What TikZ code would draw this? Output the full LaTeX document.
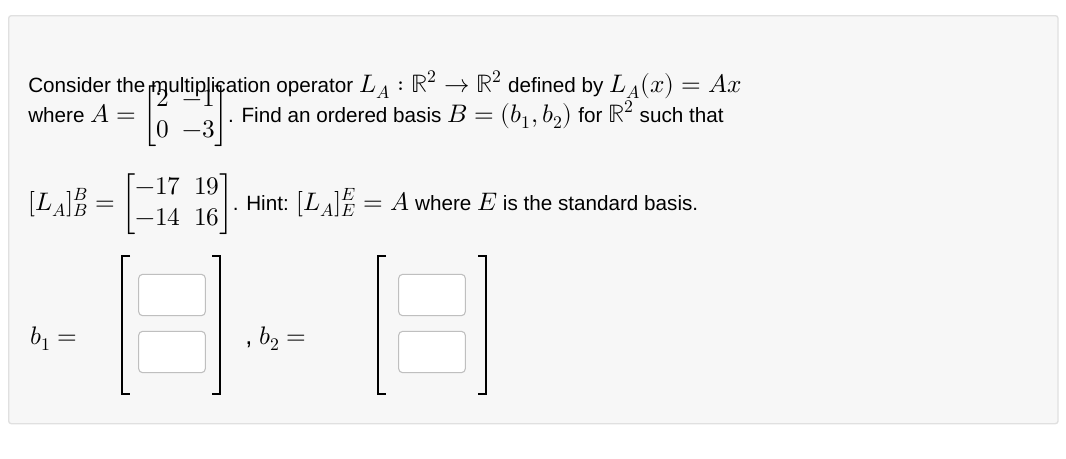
\documentclass[tikz,border=0pt]{standalone}
\usepackage{amsmath,amssymb}
\usepackage{fontspec}
\setmainfont{Liberation Sans}
\usepackage{unicode-math}
\setmathfont{Latin Modern Math}
\begin{document}
\begin{tikzpicture}[x=0.75pt,y=-0.75pt,
  txt/.style={anchor=base west,inner sep=0pt,font=\fontsize{16}{19}\selectfont},
  mtx/.style={anchor=base west,inner sep=0pt,font=\fontsize{19}{23}\selectfont},
  ansbox/.style={draw=black!25,fill=white,rounded corners=3pt,line width=0.8pt,minimum width=50pt,minimum height=31pt},
  brk/.style={line width=1.2pt}]
\useasboundingbox (0,0) rectangle (1066,458);
\fill[white] (0,0) rectangle (1066,458);
\node[draw=black!12,fill=black!3,line width=1pt,rounded corners=2pt,minimum width=787pt,minimum height=306pt,anchor=north west,inner sep=0pt] (panel) at (8,15) {};
\node[txt] (l1) at (28,92) {\fontsize{15.5}{19}\selectfont Consider the multiplication operator {\fontsize{19}{23}\selectfont$L_A:\mathbb{R}^2\to\mathbb{R}^2$} defined by {\fontsize{19}{23}\selectfont$L_A(x)=Ax$}};
\node[txt] (l2) at (28,122) {\fontsize{15.5}{19}\selectfont where {\fontsize{19}{23}\selectfont$A=\begin{bmatrix}2&-1\\0&-3\end{bmatrix}$}. Find an ordered basis {\fontsize{19}{23}\selectfont$B=(b_1,b_2)$} for {\fontsize{19}{23}\selectfont$\mathbb{R}^2$} such that};
\node[txt] (l3) at (28,210) {\fontsize{15.5}{19}\selectfont {\fontsize{19}{23}\selectfont$[L_A]_B^B=\begin{bmatrix}-17&19\\-14&16\end{bmatrix}$}. Hint: {\fontsize{19}{23}\selectfont$[L_A]_E^E=A$} where {\fontsize{19}{23}\selectfont$E$} is the standard basis.};
\node[mtx] (b1) at (30,344) {$b_1=$};
\node[ansbox] (p) at (172,295) {};
\node[ansbox] (q) at (172,352) {};
\draw[brk] (130,256) -- (122,256) -- (122,394) -- (130,394);
\draw[brk] (212,256) -- (220,256) -- (220,394) -- (212,394);
\node[mtx] (b2) at (245,344) {, $b_2=$};
\node[ansbox] (r) at (432,295) {};
\node[ansbox] (s) at (432,352) {};
\draw[brk] (386,256) -- (378,256) -- (378,394) -- (386,394);
\draw[brk] (478,256) -- (486,256) -- (486,394) -- (478,394);
\end{tikzpicture}
\end{document}
